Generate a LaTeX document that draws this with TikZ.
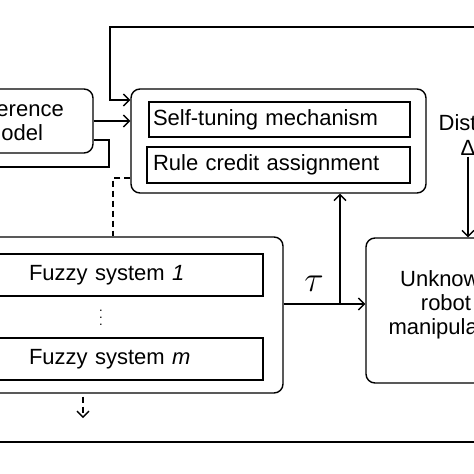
\documentclass[tikz,border=0pt]{standalone}
\usepackage{fix-cm}
\usepackage{fontspec}
\setmainfont{Liberation Sans}
\usetikzlibrary{arrows.meta}

\begin{document}
\begin{tikzpicture}[x=1pt,y=-1pt,line width=1.4pt,
  every node/.style={font=\fontsize{22}{24}\selectfont},
  blockbox/.style={draw,rounded corners=9pt,inner sep=0pt,align=center},
  subbox/.style={draw,inner ysep=0pt,align=left},
  arr/.style={-{Straight Barb[length=6pt,width=12pt,line width=1.4pt]}},
  dashline/.style={dash pattern=on 6pt off 4pt}]
  % Keep the crop of the figure
  \useasboundingbox (0,0) rectangle (474,474);
  \clip (0,0) rectangle (474,474);

  % Reference model and adaptation block
  \node[blockbox,minimum width=160pt,minimum height=64pt] (refmodel) at (13,121) {Reference\\model};
  \node[blockbox,minimum width=295pt,minimum height=104pt] (adapt) at (278.5,141) {};
  \node[subbox,inner xsep=4pt,text width=253pt,minimum height=35pt] (tuning) at (279.5,119.5) {Self-tuning mechanism};
  \node[subbox,inner xsep=6pt,text width=251pt,minimum height=36pt] (credit) at (278.5,165) {Rule credit assignment};

  % Fuzzy systems
  \node[blockbox,minimum width=363pt,minimum height=156pt] (fuzzy) at (101.5,315) {};
  \node[subbox,inner xsep=50pt,text width=184pt,minimum height=42pt] (fsone) at (121,275) {Fuzzy system \textit{1}};
  \node[align=center,inner sep=0pt,font=\fontsize{13}{7}\selectfont] (fsdots) at (101,318) {.\\.\\.};
  \node[subbox,inner xsep=50pt,text width=184pt,minimum height=42pt] (fsm) at (121,359) {Fuzzy system \textit{m}};

  % Plant and disturbance
  \node[blockbox,minimum width=160pt,minimum height=145pt] (robot) at (446,310.5) {};
  \node[align=center] (robottext) at ([yshift=6pt]robot.center) {Unknown\\robot\\manipulator};
  \node[anchor=base west,inner sep=0pt] (dist) at (438,130) {Disturbance};
  \node[anchor=base,inner sep=1pt] (delta) at (468,155) {Δ};

  \coordinate (fbright) at (500,27);
  \coordinate (fbcorner) at (110,27);
  \coordinate (refout) at (-10,167);
  \coordinate (tap) at (340,304);
  \coordinate (fout) at (83,418);

  % Connections
  \draw[arr] (fbright) -- (fbcorner) |- (adapt.west |- 0,100);
  \draw[arr] (refmodel.east |- 0,121) -- (adapt.west |- 0,121);
  \draw (refmodel.east |- 0,140) -| (109,167) -- (refout);
  \draw[dashline] (adapt.west |- 0,178) -| (fuzzy.north -| 113,0);
  \draw[arr] (fuzzy.east |- tap) -- (robot.west |- tap);
  \node[font=\fontsize{36}{36}\selectfont,inner sep=0pt] (tau) at (314,284) {$\tau$};
  \draw[arr] (tap) -- (adapt.south -| tap);
  \draw[arr] (delta.south) -- (delta.south |- robot.north);
  \draw[dashline,arr] ([yshift=-3pt]fuzzy.south -| fout) -- (fout);

  % Bottom rule
  \draw (-10,442) -- (484,442);
\end{tikzpicture}
\end{document}
